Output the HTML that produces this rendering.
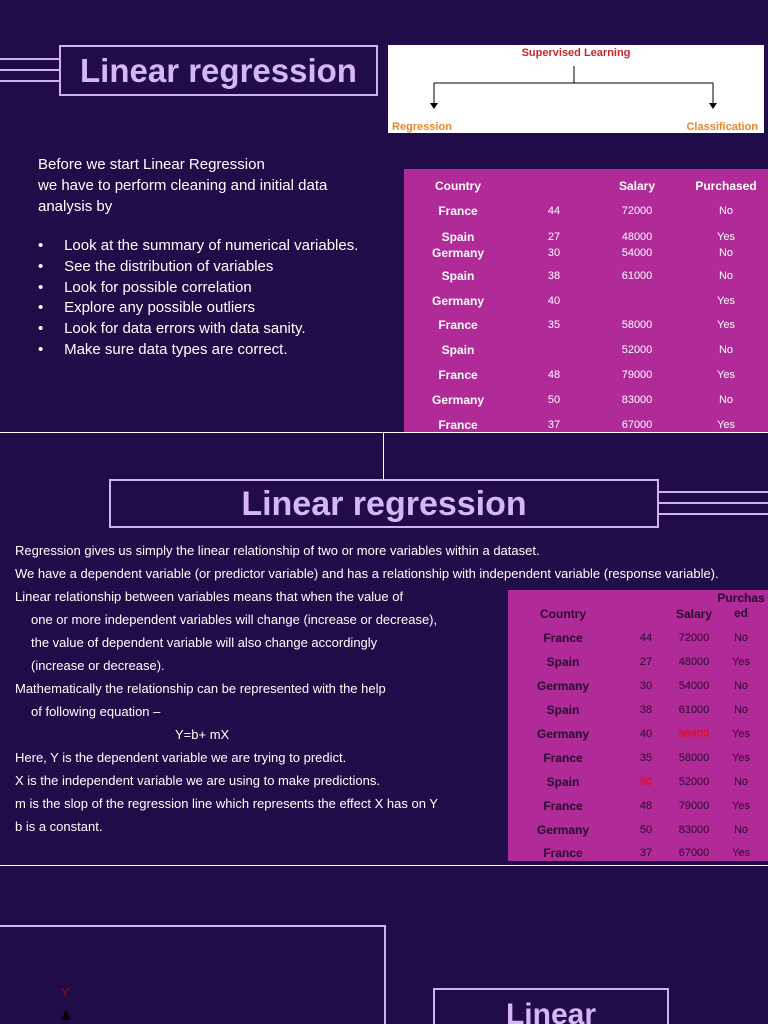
<!DOCTYPE html>
<html><head><meta charset="utf-8"><style>
html,body{margin:0;width:768px;height:1024px;overflow:hidden;background:#200c48}
#root{position:relative;width:768px;height:1024px;overflow:hidden;background:#200c48;font-family:"Liberation Sans",sans-serif}
#root div,#root span{position:absolute}
.ln{background:#cdb3f0}
.tb{border:2px solid #cdb3f0;box-sizing:border-box;color:#d5b6fa;font-weight:bold;text-align:center}
.t{color:#fff;font-size:15px;white-space:nowrap}
.s{color:#fff;font-size:13px;white-space:nowrap}
.c{transform:translate(-50%,-50%);white-space:nowrap;font-size:11px}
</style></head><body>
<div id="root">
<div class="ln" style="left:0;top:58px;width:60px;height:2px"></div>
<div class="ln" style="left:0;top:69px;width:60px;height:2px"></div>
<div class="ln" style="left:0;top:80px;width:60px;height:2px"></div>
<div class="tb" style="left:59px;top:45px;width:319px;height:51px;font-size:33px;line-height:47px">Linear regression</div>
<div style="left:388px;top:45px;width:376px;height:88px;background:#fff">
 <span style="left:0;width:376px;top:2px;text-align:center;color:#c0282e;font-weight:bold;font-size:11px">Supervised Learning</span>
 <svg width="376" height="88" style="position:absolute;left:0;top:0"><path d="M186 21V38M46 38H325M46 38V60M325 38V60" stroke="#000" fill="none"/><path d="M42 58L46 64L50 58ZM321 58L325 64L329 58Z" fill="#000"/></svg>
 <span style="left:4px;top:76px;color:#e8862a;font-weight:bold;font-size:11px">Regression</span>
 <span style="right:6px;top:76px;color:#e8862a;font-weight:bold;font-size:11px">Classification</span>
</div>
<div class="t" style="left:38px;top:154px;line-height:21px">Before we start Linear Regression<br>we have to perform cleaning and initial data<br>analysis by</div>
<div class="t" style="left:38px;top:236px;line-height:20.8px">
<div style="position:relative">•&nbsp;&nbsp;&nbsp;&nbsp;&nbsp;Look at the summary of numerical variables.</div>
<div style="position:relative">•&nbsp;&nbsp;&nbsp;&nbsp;&nbsp;See the distribution of variables</div>
<div style="position:relative">•&nbsp;&nbsp;&nbsp;&nbsp;&nbsp;Look for possible correlation</div>
<div style="position:relative">•&nbsp;&nbsp;&nbsp;&nbsp;&nbsp;Explore any possible outliers</div>
<div style="position:relative">•&nbsp;&nbsp;&nbsp;&nbsp;&nbsp;Look for data errors with data sanity.</div>
<div style="position:relative">•&nbsp;&nbsp;&nbsp;&nbsp;&nbsp;Make sure data types are correct.</div>
</div>
<div id="t1" style="left:404px;top:169px;width:364px;height:263px;background:#b02a98;color:#fff"></div>
<div style="left:0;top:432px;width:768px;height:1px;background:#fff"></div>
<div style="left:383px;top:432px;width:1px;height:47px;background:#fff"></div>
<div class="tb" style="left:109px;top:479px;width:550px;height:49px;font-size:34px;line-height:46px">Linear regression</div>
<div class="ln" style="left:658px;top:491px;width:110px;height:2px"></div>
<div class="ln" style="left:658px;top:502px;width:110px;height:2px"></div>
<div class="ln" style="left:658px;top:513px;width:110px;height:2px"></div>
<div class="s" style="left:15px;top:539px;line-height:23px">
Regression gives us simply the linear relationship of two or more variables within a dataset.<br>
We have a dependent variable (or predictor variable) and has a relationship with independent variable (response variable).<br>
Linear relationship between variables means that when the value of<br>
<span style="position:static;padding-left:16px">one or more independent variables will change (increase or decrease),</span><br>
<span style="position:static;padding-left:16px">the value of dependent variable will also change accordingly</span><br>
<span style="position:static;padding-left:16px">(increase or decrease).</span><br>
Mathematically the relationship can be represented with the help<br>
<span style="position:static;padding-left:16px">of following equation –</span><br>
<span style="position:static;padding-left:160px">Y=b+ mX</span><br>
Here, Y is the dependent variable we are trying to predict.<br>
X is the independent variable we are using to make predictions.<br>
m is the slop of the regression line which represents the effect X has on Y<br>
b is a constant.</div>
<div id="t2" style="left:508px;top:590px;width:260px;height:271px;background:#b02a98;color:#2a0a30"></div>
<div style="left:0;top:865px;width:768px;height:1px;background:#fff"></div>
<div style="left:-2px;top:925px;width:384px;height:140px;border:2px solid #cdb3f0"></div>
<div style="left:61px;top:985px;color:#8a1010;font-size:13px">Y</div>
<div style="left:61px;top:1010px;width:0;height:0;border-left:5px solid transparent;border-right:5px solid transparent;border-bottom:10px solid #000"></div>
<div class="tb" style="left:433px;top:988px;width:236px;height:80px;font-size:30px;line-height:50px">Linear</div>
</div>
<script>
const countries=["France","Spain","Germany","Spain","Germany","France","Spain","France","Germany","France"];
const ages1=["44","27","30","38","40","35","","48","50","37"];
const sal1=["72000","48000","54000","61000","","58000","52000","79000","83000","67000"];
const purch=["No","Yes","No","No","Yes","Yes","No","Yes","No","Yes"];
const ages2=["44","27","30","38","40","35","50","48","50","37"];
const sal2=["72000","48000","54000","61000","56400","58000","52000","79000","83000","67000"];
function cell(p,x,y,txt,bold,size,color,name){
 const s=document.createElement('span');
 
 
 s.className='c';s.style.left=x+'px';s.style.top=y+'px';s.textContent=txt;
 if(bold)s.style.fontWeight='bold';if(size)s.style.fontSize=size+'px';if(color)s.style.color=color;
 p.appendChild(s);
}
const t1=document.getElementById('t1');
const r1=[42,68,84,107,132,156,181,206,231,256];
cell(t1,54,17,"Country",1,12,0,'header-country');cell(t1,233,17,"Salary",1,12,0,'header-salary');cell(t1,322,17,"Purchased",1,12,0,'header-purchased');
countries.forEach((c,i)=>{cell(t1,54,r1[i],c,1,12,0,'cell-country');cell(t1,150,r1[i],ages1[i],0,0,0,'cell-age');cell(t1,233,r1[i],sal1[i],0,0,0,'cell-salary');cell(t1,322,r1[i],purch[i],0,0,0,'cell-purchased');});
const t2=document.getElementById('t2');
const r2=[48,72,96,120,144,168,192,216,240,263];
cell(t2,55,24,"Country",1,12,0,'header-country');cell(t2,186,24,"Salary",1,12,0,'header-salary');cell(t2,233,8,"Purchas",1,12,0,'header-purchased');cell(t2,233,23,"ed",1,12,0,'header-purchased');
countries.forEach((c,i)=>{cell(t2,55,r2[i],c,1,12,0,'cell-country');cell(t2,138,r2[i],ages2[i],i==6,0,i==6?'#e0102a':0,'cell-age');cell(t2,186,r2[i],sal2[i],i==4,0,i==4?'#e0102a':0,'cell-salary');cell(t2,233,r2[i],purch[i],0,0,0,'cell-purchased');});
</script>
</body></html>
